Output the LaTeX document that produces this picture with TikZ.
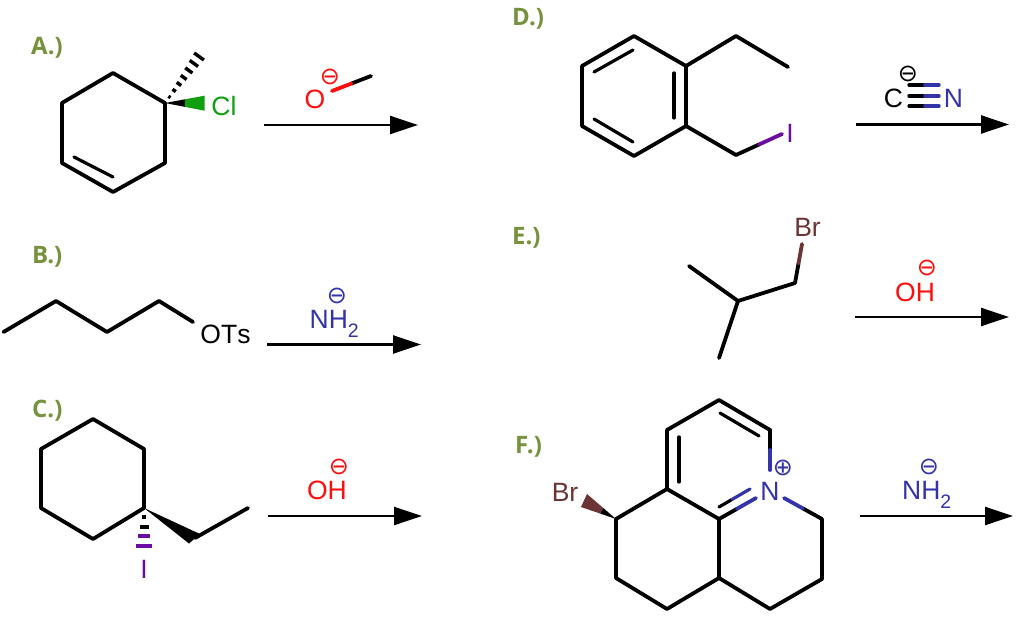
\documentclass[tikz,border=0pt]{standalone}
\usepackage{fontspec}
\setmainfont[Kerning=Off]{Liberation Sans}
\newfontfamily\labelfont{Open Sans}[BoldFont={* Bold}]
\newfontfamily\chargefont{DejaVu Sans}
\usetikzlibrary{calc,arrows.meta}
\definecolor{lblgreen}{HTML}{76923C}
\definecolor{oxred}{HTML}{FF0D0D}
\definecolor{clgreen}{HTML}{0FA00F}
\definecolor{nblue}{HTML}{3333AA}
\definecolor{ipurple}{HTML}{6A0DA0}
\definecolor{brbrown}{HTML}{6B3333}
\tikzset{
  bond/.style={line width=3.8pt,line join=round,line cap=round,black},
  thinbond/.style={line width=3.2pt,line cap=round},
  rxn/.style={line width=2.4pt,-{Triangle[length=28pt,width=18pt]}},
  partlabel/.style={font=\labelfont\bfseries\fontsize{24}{24}\selectfont,text=lblgreen,anchor=base west,inner sep=0pt},
  atom/.style={font=\fontsize{26.5}{26.5}\selectfont,inner sep=0pt},
  subatom/.style={font=\fontsize{26.5}{26.5}\selectfont,inner sep=0pt,anchor=base west},
  charge/.style={font=\chargefont\fontsize{24}{24}\selectfont,inner sep=0pt},
}
% two-coloured bond: black from #1 up to fraction #3, colour #4 to #2
\newcommand{\twotone}[4]{%
  \draw[bond] (#1) -- ($(#1)!#3!(#2)$);
  \draw[bond,#4] ($(#1)!#3!(#2)$) -- (#2);}
\newcommand{\subtwo}{\raisebox{-9pt}{\fontsize{19.5}{19.5}\selectfont 2}}
\begin{document}
\begin{tikzpicture}[x=1pt,y=-1pt]
\useasboundingbox[fill=white] (0,0) rectangle (1024,620);

%% labels
\node[partlabel] (lA) at (31,55) {A.)};
\node[partlabel] (lB) at (32,263) {B.)};
\node[partlabel] (lC) at (32,417) {C.)};
\node[partlabel] (lD) at (512,26) {D.)};
\node[partlabel] (lE) at (512,244) {E.)};
\node[partlabel] (lF) at (515,453) {F.)};

%% A
\coordinate (a1) at (113,73);
\coordinate (a2) at (62,103);
\coordinate (a3) at (62,163);
\coordinate (a4) at (113,192);
\coordinate (a5) at (165,163);
\coordinate (a6) at (165,103);
\coordinate (a7) at (74,157);
\coordinate (a8) at (113,177);
\coordinate (a9) at (199,56.5);
\coordinate (a10) at (204.5,95.7);
\coordinate (a11) at (204.5,110.7);
\draw[bond] (a1)--(a2)--(a3)--(a4)--(a5)--(a6)--cycle;
\draw[thinbond] (a7)--(a8);
\foreach \t/\w in {.13/1.2,.27/2,.41/2.8,.55/3.6,.70/4.4,.85/5.2,1/6}{
  \draw[line width=3.4pt] ($(a6)!\t!(a9)!\w pt!90:(a6)$) -- ($(a6)!\t!(a9)!\w pt!-90:(a6)$);}
\fill[black] (a6) -- ($(a6)!.5!(a10)$) -- ($(a6)!.5!(a11)$) -- cycle;
\fill[clgreen] ($(a6)!.5!(a10)$) -- (a10) -- (a11) -- ($(a6)!.5!(a11)$) -- cycle;
\node[atom,text=clgreen] (aCl) at (224,106) {Cl};
\node[atom,text=oxred] (aO) at (315,99.5) {O};
\node[charge,text=oxred] (aq) at (330,77) {⊖};
\coordinate (am1) at (332,91);
\coordinate (am2) at (371,76);
\twotone{am2}{am1}{.5}{oxred}
\coordinate (ra1) at (264,125);
\coordinate (ra2) at (418,125);
\draw[rxn] (ra1) -- (ra2);

%% B
\coordinate (b1) at (3.5,332);
\coordinate (b2) at (56,301);
\coordinate (b3) at (107,332);
\coordinate (b4) at (159,301);
\coordinate (b5) at (193,322);
\draw[bond] (b1)--(b2)--(b3)--(b4)--(b5);
\node[atom] (bO) at (225.5,334) {OTs};
\node[subatom,text=nblue] (bN) at (309.5,328) {NH\subtwo};
\node[charge,text=nblue] (bq) at (337,296) {⊖};
\coordinate (rb1) at (267,344.5);
\coordinate (rb2) at (421,344.5);
\draw[rxn] (rb1) -- (rb2);

%% C
\coordinate (c1) at (93,419);
\coordinate (c2) at (41,449);
\coordinate (c3) at (41,508);
\coordinate (c4) at (93,539);
\coordinate (c5) at (144,508);
\coordinate (c6) at (144,449);
\coordinate (c7) at (200,534);
\coordinate (c8) at (189,543.5);
\coordinate (c9) at (195,538);
\coordinate (c10) at (248,508);
\coordinate (c11) at (144,546);
\draw[bond] (c1)--(c2)--(c3)--(c4)--(c5)--(c6)--cycle;
\fill[black] (c5)--(c7)--(c8)--cycle;
\draw[bond] (c9)--(c10);
\foreach \t/\w/\k in {.24/2/black,.5/4.5/black,.74/6/ipurple,1/8/ipurple}{
  \draw[line width=3.4pt,\k] ($(c5)!\t!(c11)!\w pt!90:(c5)$) -- ($(c5)!\t!(c11)!\w pt!-90:(c5)$);}
\node[atom,text=ipurple] (cI) at (144,569) {I};
\node[atom,text=oxred] (cO) at (327,490) {OH};
\node[charge,text=oxred] (cq) at (339,467) {⊖};
\coordinate (rc1) at (268,516);
\coordinate (rc2) at (422,516);
\draw[rxn] (rc1) -- (rc2);

%% D
\coordinate (d1) at (634,36);
\coordinate (d2) at (582,66);
\coordinate (d3) at (582,126);
\coordinate (d4) at (634,156);
\coordinate (d5) at (686,126);
\coordinate (d6) at (686,66);
\coordinate (d7) at (736,36);
\coordinate (d8) at (788,67);
\coordinate (d9) at (736,155);
\coordinate (d10) at (782,134);
\coordinate (di1) at (594,72);
\coordinate (di2) at (633,50);
\coordinate (di3) at (594,119);
\coordinate (di4) at (633,142);
\coordinate (di5) at (674,73);
\coordinate (di6) at (674,118);
\draw[bond] (d1)--(d2)--(d3)--(d4)--(d5)--(d6)--cycle;
\draw[bond] (d6)--(d7)--(d8);
\draw[bond] (d5)--(d9);
\twotone{d9}{d10}{.5}{ipurple}
\draw[thinbond] (di1)--(di2);
\draw[thinbond] (di3)--(di4);
\draw[thinbond] (di5)--(di6);
\node[atom,text=ipurple] (dI) at (790,133) {I};
\node[atom] (dC) at (893.5,98) {C};
\node[atom,text=nblue] (dN) at (953.5,98) {N};
\node[charge] (dq) at (908,74) {⊖};
\foreach \y [count=\i] in {85,96,106}{
  \coordinate (dt\i) at (909,\y);
  \coordinate (dv\i) at (939,\y);
  \draw[line width=3.4pt,line cap=round] (dt\i) -- ($(dt\i)!.53!(dv\i)$);
  \draw[line width=3.4pt,line cap=round,nblue] ($(dt\i)!.53!(dv\i)$) -- (dv\i);
}
\coordinate (rd1) at (856,124.5);
\coordinate (rd2) at (1009,124.5);
\draw[rxn] (rd1) -- (rd2);

%% E
\coordinate (e1) at (689,266);
\coordinate (e2) at (738,301);
\coordinate (e3) at (719,358);
\coordinate (e4) at (795,283);
\coordinate (e5) at (802,244);
\draw[bond] (e1)--(e2)--(e3);
\draw[bond] (e2)--(e4);
\twotone{e4}{e5}{.5}{brbrown}
\node[atom,text=brbrown] (eBr) at (807.5,227.5) {Br};
\node[atom,text=oxred] (eO) at (915,292) {OH};
\node[charge,text=oxred] (eq) at (927,268) {⊖};
\coordinate (re1) at (855,317);
\coordinate (re2) at (1009,317);
\draw[rxn] (re1) -- (re2);

%% F
\coordinate (f1) at (719,400);
\coordinate (f2) at (667,430);
\coordinate (f3) at (667,489);
\coordinate (f4) at (719,519);
\coordinate (f5) at (770,430);
\coordinate (f6) at (770,470);
\coordinate (f7) at (756,498);
\coordinate (f8) at (784,498);
\coordinate (f9) at (822,519);
\coordinate (f10) at (822,579);
\coordinate (f11) at (770,609);
\coordinate (f12) at (719,578);
\coordinate (f13) at (667,609);
\coordinate (f14) at (616,578);
\coordinate (f15) at (616,519);
\coordinate (f16) at (587,494);
\coordinate (f17) at (581,507);
\coordinate (fi1) at (679,437);
\coordinate (fi2) at (679,482);
\coordinate (fi3) at (720,413);
\coordinate (fi4) at (759,436);
\coordinate (fi5) at (719,507);
\coordinate (fi6) at (750,489);
\draw[bond] (f3)--(f2)--(f1)--(f5);
\twotone{f5}{f6}{.5}{nblue}
\draw[bond] (f15)--(f3)--(f4)--(f12);
\twotone{f4}{f7}{.48}{nblue}
\twotone{f9}{f8}{.5}{nblue}
\draw[bond] (f9)--(f10)--(f11)--(f12)--(f13)--(f14)--(f15);
\draw[thinbond] (fi1)--(fi2);
\draw[thinbond] (fi3)--(fi4);
\draw[thinbond] (fi5)-- ($(fi5)!.42!(fi6)$);
\draw[thinbond,nblue] ($(fi5)!.42!(fi6)$) -- (fi6);
\fill[black] (f15) -- ($(f15)!.45!(f16)$) -- ($(f15)!.45!(f17)$) -- cycle;
\fill[brbrown] ($(f15)!.45!(f16)$) -- (f16) -- (f17) -- ($(f15)!.45!(f17)$) -- cycle;
\node[atom,text=brbrown] (fBr) at (565,492) {Br};
\node[atom,text=nblue] (fN) at (770,491.5) {N};
\node[charge,text=nblue] (fp) at (783,468) {⊕};
\node[subatom,text=nblue] (fNH) at (902,499) {NH\subtwo};
\node[charge,text=nblue] (fq) at (929,467) {⊖};
\coordinate (rf1) at (860,516);
\coordinate (rf2) at (1013,516);
\draw[rxn] (rf1) -- (rf2);
\end{tikzpicture}
\end{document}
